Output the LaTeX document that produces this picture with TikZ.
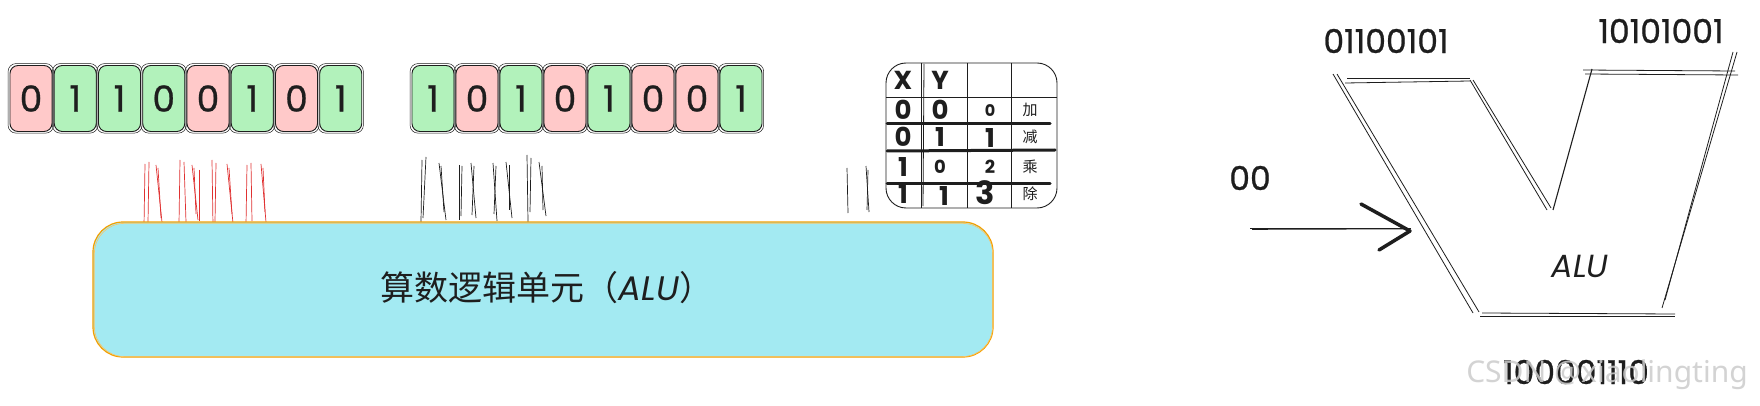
\documentclass[tikz,border=0pt]{standalone}
\usepackage{fontspec}
\setmainfont{Poppins}
\newfontfamily\hand[FakeBold=0.7]{Poppins}
\newfontfamily\cjk{Noto Sans CJK SC}
\newfontfamily\wmfont{Noto Sans}
\definecolor{ink}{HTML}{1E1E1E}
\definecolor{pinkf}{HTML}{FFC9C9}
\definecolor{greenf}{HTML}{B2F2BB}
\definecolor{cyanf}{RGB}{163,234,242}
\definecolor{orangeb}{HTML}{F59F00}
\definecolor{redl}{HTML}{E03131}
\begin{document}
\begin{tikzpicture}[x=1pt,y=-1pt,
  bitbox/.style={draw=ink, line width=0.9pt, rounded corners=8pt, minimum width=42pt, minimum height=66pt, inner sep=0pt, text=ink, font=\hand\fontsize{36}{40}\selectfont},
  sk/.style={draw=ink, line width=0.8pt},
  redhash/.style={draw=redl, line width=0.7pt},
  blkhash/.style={draw=ink, line width=0.7pt},
  lbl/.style={text=ink, inner sep=0pt, font=\hand\fontsize{33}{36}\selectfont},
  cell/.style={text=ink, inner sep=0pt, font=\bfseries\fontsize{26}{28}\selectfont},
  cellzh/.style={text=ink, inner sep=0pt, font=\cjk\fontsize{15}{16}\selectfont},
  tline/.style={draw=ink, line width=0.8pt},
  tthick/.style={draw=ink, line width=3pt, line cap=round}]
\useasboundingbox (0,0) rectangle (1760,406);
\fill[white] (0,0) rectangle (1760,406);

% ---- bit rows ----
\foreach \b/\c [count=\i] in {0/pinkf,1/greenf,1/greenf,0/greenf,0/pinkf,1/greenf,0/pinkf,1/greenf}{
  \node[bitbox, fill=\c] (a\i) at ({31+44.25*(\i-1)},98.5) {\b};
  \draw[ink, line width=0.5pt, rounded corners=8pt] ([shift={(-1.5,1.2)}]a\i.south west) rectangle ([shift={(1.2,-1.5)}]a\i.north east);
}
\foreach \b/\c [count=\i] in {1/greenf,0/pinkf,1/greenf,0/pinkf,1/greenf,0/pinkf,0/pinkf,1/greenf}{
  \node[bitbox, fill=\c] (b\i) at ({433+44*(\i-1)},98.5) {\b};
  \draw[ink, line width=0.5pt, rounded corners=8pt] ([shift={(-1.5,1.2)}]b\i.south west) rectangle ([shift={(1.2,-1.5)}]b\i.north east);
}

% ---- hash lines ----
\foreach \xa/\ya/\xb/\yb in {145/164/144/226, 149/162/148/223, 156/165/162/222, 158/168/161/218, 180/160/179/224, 184/162/186/222, 192/165/198/220, 194/168/196/214, 199/170/199/221, 212/160/213/226, 216/163/215/222, 227/164/233/223, 229/168/232/214, 247/165/246/225, 251/163/252/221, 261/164/266/222, 263/168/265/212}
  \draw[redhash] (\xa,\ya) -- (\xb,\yb);
\foreach \xa/\ya/\xb/\yb in {422/160/421/222, 426/157/423/218, 439/163/446/220, 441/166/444/212, 459/165/459/220, 462/166/461/216, 471/163/476/218, 474/166/472/215, 493/163/497/221, 496/166/494/214, 506/162/512/218, 509/165/509/210, 527/155/528/222, 531/158/530/212, 539/162/546/216, 542/166/543/210, 847/168/848/213, 866/166/869/212, 868/170/867/210}
  \draw[blkhash] (\xa,\ya) -- (\xb,\yb);

% ---- ALU box ----
\node[draw=orangeb, fill=cyanf, line width=1.2pt, rounded corners=30pt, minimum width=900pt, minimum height=135pt, inner sep=0pt] (alu) at (543,289.5) {};
\draw[orangeb!60, line width=0.6pt, rounded corners=30pt] ([shift={(2,-1)}]alu.south west) rectangle ([shift={(-1,2)}]alu.north east);
\node[text=ink, inner sep=0pt, font=\cjk\fontsize{34}{36}\selectfont] (alutext) at (547,288) {算数逻辑单元（{\rmfamily\itshape ALU}）};

% ---- table ----
\node[draw=ink, line width=0.9pt, rounded corners=20pt, minimum width=171pt, minimum height=145pt, inner sep=0pt] (tbl) at (971.5,135.5) {};
\draw[tline] (921,63) -- (921,208);
\draw[tline] (924,64) -- (923,206);
\draw[tline] (967,63) -- (967,208);
\draw[tline] (1011,63) -- (1011,208);
\draw[tline] (886,97) -- (1057,97);
\draw[tthick] (887,124) -- (1050,124);
\draw[tthick] (887,151) -- (1055,150);
\draw[tthick] (887,184) -- (1050,184);
\node[cell] (hx) at (903,80) {X};
\node[cell] (hy) at (940,80) {Y};
\node[cell] (c11) at (903,110) {0};
\node[cell] (c12) at (940,110) {0};
\node[cell, font=\bfseries\fontsize{16}{18}\selectfont] (c13) at (990,111) {0};
\node[cellzh] (c14) at (1030,110) {加};
\node[cell] (c21) at (903,137) {0};
\node[cell] (c22) at (940,137) {1};
\node[cell] (c23) at (990,138) {1};
\node[cellzh] (c24) at (1030,137) {减};
\node[cell] (c31) at (903,167) {1};
\node[cell, font=\bfseries\fontsize{18}{20}\selectfont] (c32) at (940,167) {0};
\node[cell, font=\bfseries\fontsize{18}{20}\selectfont] (c33) at (990,167) {2};
\node[cellzh] (c34) at (1030,167) {乘};
\node[cell] (c41) at (903,194) {1};
\node[cell] (c42) at (944,196) {1};
\node[cell, font=\bfseries\fontsize{32}{34}\selectfont] (c43) at (985,193) {3};
\node[cellzh] (c44) at (1030,194) {除};

% ---- right ALU diagram ----
\node[lbl] (in1) at (1386,41) {01100101};
\node[lbl] (in2) at (1661,31) {10101001};
\node[lbl] (op) at (1250,178) {00};
\node[lbl, font=\itshape\fontsize{32}{34}\selectfont] (alulbl) at (1580,266) {ALU};
\node[lbl] (res) at (1576,372) {100001110};

\coordinate (p1) at (1333,74);
\coordinate (p2) at (1473,313);
\draw[sk] (p1) -- (p2);
\draw[sk] (1337,74) -- (1479,312);
\draw[sk] (1347,78) -- (1470,78);
\draw[sk] (1345,83) -- (1470,81);
\draw[sk] (1470,80) -- (1547,210);
\draw[sk] (1473,80) -- (1551,208);
\draw[ink, line width=1.1pt] (1592,69) -- (1553,210);
\draw[sk] (1583,70) -- (1735,71);
\draw[sk] (1585,74) -- (1738,75);
\draw[sk] (1737,52) -- (1662,308);
\draw[sk] (1733,52) -- (1665,300);
\draw[sk] (1482,313) -- (1675,314);
\draw[sk] (1480,316) -- (1675,316);

\coordinate (ar0) at (1250,228);
\coordinate (ar1) at (1411,228);
\draw[sk] (ar0) -- (ar1);
\draw[ink, line width=0.6pt] (1252,229.5) -- (1409,229);
\draw[ink, line width=3.5pt, line cap=round, line join=round] (1361,204) -- (1410,231) -- (1379,250);

% ---- watermark ----
\node[text=gray!40, opacity=0.85, inner sep=0pt, font=\wmfont\fontsize{30}{32}\selectfont] (wm) at (1607,375) {CSDN @xiaolingting};
\end{tikzpicture}
\end{document}
